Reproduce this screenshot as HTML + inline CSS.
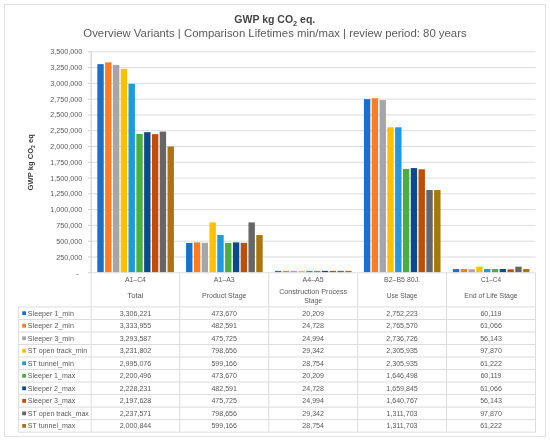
<!DOCTYPE html>
<html lang="en"><head><meta charset="utf-8"><title>GWP kg CO2 eq. – Overview Variants</title>
<style>html,body{margin:0;padding:0;background:#fff}body{width:550px;height:441px;overflow:hidden}svg{display:block}</style>
</head><body>
<svg width="550" height="441" viewBox="0 0 550 441" font-family="'Liberation Sans', sans-serif">
<rect x="0" y="0" width="550" height="441" fill="#fff"/>
<rect x="4.5" y="4.5" width="541" height="432" fill="#fff" stroke="#e2e2e2" stroke-width="1"/>
<line x1="91.2" y1="51.80" x2="535.5" y2="51.80" stroke="#dcdcdc" stroke-width="1"/>
<line x1="91.2" y1="67.58" x2="535.5" y2="67.58" stroke="#dcdcdc" stroke-width="1"/>
<line x1="91.2" y1="83.36" x2="535.5" y2="83.36" stroke="#dcdcdc" stroke-width="1"/>
<line x1="91.2" y1="99.15" x2="535.5" y2="99.15" stroke="#dcdcdc" stroke-width="1"/>
<line x1="91.2" y1="114.93" x2="535.5" y2="114.93" stroke="#dcdcdc" stroke-width="1"/>
<line x1="91.2" y1="130.71" x2="535.5" y2="130.71" stroke="#dcdcdc" stroke-width="1"/>
<line x1="91.2" y1="146.49" x2="535.5" y2="146.49" stroke="#dcdcdc" stroke-width="1"/>
<line x1="91.2" y1="162.27" x2="535.5" y2="162.27" stroke="#dcdcdc" stroke-width="1"/>
<line x1="91.2" y1="178.06" x2="535.5" y2="178.06" stroke="#dcdcdc" stroke-width="1"/>
<line x1="91.2" y1="193.84" x2="535.5" y2="193.84" stroke="#dcdcdc" stroke-width="1"/>
<line x1="91.2" y1="209.62" x2="535.5" y2="209.62" stroke="#dcdcdc" stroke-width="1"/>
<line x1="91.2" y1="225.40" x2="535.5" y2="225.40" stroke="#dcdcdc" stroke-width="1"/>
<line x1="91.2" y1="241.19" x2="535.5" y2="241.19" stroke="#dcdcdc" stroke-width="1"/>
<line x1="91.2" y1="256.97" x2="535.5" y2="256.97" stroke="#dcdcdc" stroke-width="1"/>
<rect x="97.32" y="64.13" width="6.4" height="208.22" fill="#1c70ca"/>
<rect x="105.12" y="62.38" width="6.4" height="209.97" fill="#f97d24"/>
<rect x="112.92" y="64.93" width="6.4" height="207.42" fill="#a6a6a6"/>
<rect x="120.72" y="68.83" width="6.4" height="203.52" fill="#ffc000"/>
<rect x="128.52" y="83.78" width="6.4" height="188.57" fill="#1e9bdb"/>
<rect x="136.32" y="133.94" width="6.4" height="138.41" fill="#4cae41"/>
<rect x="144.12" y="132.18" width="6.4" height="140.17" fill="#0d4a8b"/>
<rect x="151.92" y="134.12" width="6.4" height="138.23" fill="#bf4e0b"/>
<rect x="159.72" y="131.60" width="6.4" height="140.75" fill="#666666"/>
<rect x="167.52" y="146.54" width="6.4" height="125.81" fill="#a8760c"/>
<rect x="186.07" y="242.95" width="6.4" height="29.40" fill="#1c70ca"/>
<rect x="193.88" y="242.38" width="6.4" height="29.97" fill="#f97d24"/>
<rect x="201.67" y="242.82" width="6.4" height="29.53" fill="#a6a6a6"/>
<rect x="209.47" y="222.43" width="6.4" height="49.92" fill="#ffc000"/>
<rect x="217.27" y="235.03" width="6.4" height="37.32" fill="#1e9bdb"/>
<rect x="225.07" y="242.95" width="6.4" height="29.40" fill="#4cae41"/>
<rect x="232.88" y="242.38" width="6.4" height="29.97" fill="#0d4a8b"/>
<rect x="240.67" y="242.82" width="6.4" height="29.53" fill="#bf4e0b"/>
<rect x="248.47" y="222.43" width="6.4" height="49.92" fill="#666666"/>
<rect x="256.27" y="235.03" width="6.4" height="37.32" fill="#a8760c"/>
<rect x="275.02" y="270.85" width="6.4" height="1.50" fill="#1c70ca"/>
<rect x="282.82" y="270.85" width="6.4" height="1.50" fill="#f97d24"/>
<rect x="290.62" y="270.85" width="6.4" height="1.50" fill="#a6a6a6"/>
<rect x="298.42" y="270.85" width="6.4" height="1.50" fill="#ffc000"/>
<rect x="306.22" y="270.85" width="6.4" height="1.50" fill="#1e9bdb"/>
<rect x="314.02" y="270.85" width="6.4" height="1.50" fill="#4cae41"/>
<rect x="321.82" y="270.85" width="6.4" height="1.50" fill="#0d4a8b"/>
<rect x="329.62" y="270.85" width="6.4" height="1.50" fill="#bf4e0b"/>
<rect x="337.42" y="270.85" width="6.4" height="1.50" fill="#666666"/>
<rect x="345.22" y="270.85" width="6.4" height="1.50" fill="#a8760c"/>
<rect x="363.92" y="99.11" width="6.4" height="173.24" fill="#1c70ca"/>
<rect x="371.72" y="98.26" width="6.4" height="174.09" fill="#f97d24"/>
<rect x="379.52" y="100.08" width="6.4" height="172.27" fill="#a6a6a6"/>
<rect x="387.32" y="127.28" width="6.4" height="145.07" fill="#ffc000"/>
<rect x="395.12" y="127.28" width="6.4" height="145.07" fill="#1e9bdb"/>
<rect x="402.92" y="168.91" width="6.4" height="103.44" fill="#4cae41"/>
<rect x="410.72" y="168.07" width="6.4" height="104.28" fill="#0d4a8b"/>
<rect x="418.52" y="169.27" width="6.4" height="103.08" fill="#bf4e0b"/>
<rect x="426.32" y="190.04" width="6.4" height="82.31" fill="#666666"/>
<rect x="434.12" y="190.04" width="6.4" height="82.31" fill="#a8760c"/>
<rect x="452.85" y="269.05" width="6.4" height="3.30" fill="#1c70ca"/>
<rect x="460.65" y="268.99" width="6.4" height="3.36" fill="#f97d24"/>
<rect x="468.45" y="269.31" width="6.4" height="3.04" fill="#a6a6a6"/>
<rect x="476.25" y="266.67" width="6.4" height="5.68" fill="#ffc000"/>
<rect x="484.05" y="268.99" width="6.4" height="3.36" fill="#1e9bdb"/>
<rect x="491.85" y="269.05" width="6.4" height="3.30" fill="#4cae41"/>
<rect x="499.65" y="268.99" width="6.4" height="3.36" fill="#0d4a8b"/>
<rect x="507.45" y="269.31" width="6.4" height="3.04" fill="#bf4e0b"/>
<rect x="515.25" y="266.67" width="6.4" height="5.68" fill="#666666"/>
<rect x="523.05" y="268.99" width="6.4" height="3.36" fill="#a8760c"/>
<line x1="91.2" y1="51.8" x2="91.2" y2="272.75" stroke="#cfcfcf" stroke-width="1"/>
<line x1="91.2" y1="272.75" x2="91.2" y2="432.15" stroke="#dcdcdc" stroke-width="1"/>
<line x1="91.2" y1="272.75" x2="535.5" y2="272.75" stroke="#dedede" stroke-width="1"/>
<line x1="88.2" y1="51.80" x2="91.2" y2="51.80" stroke="#c8c8c8" stroke-width="1"/>
<line x1="88.2" y1="67.58" x2="91.2" y2="67.58" stroke="#c8c8c8" stroke-width="1"/>
<line x1="88.2" y1="83.36" x2="91.2" y2="83.36" stroke="#c8c8c8" stroke-width="1"/>
<line x1="88.2" y1="99.15" x2="91.2" y2="99.15" stroke="#c8c8c8" stroke-width="1"/>
<line x1="88.2" y1="114.93" x2="91.2" y2="114.93" stroke="#c8c8c8" stroke-width="1"/>
<line x1="88.2" y1="130.71" x2="91.2" y2="130.71" stroke="#c8c8c8" stroke-width="1"/>
<line x1="88.2" y1="146.49" x2="91.2" y2="146.49" stroke="#c8c8c8" stroke-width="1"/>
<line x1="88.2" y1="162.27" x2="91.2" y2="162.27" stroke="#c8c8c8" stroke-width="1"/>
<line x1="88.2" y1="178.06" x2="91.2" y2="178.06" stroke="#c8c8c8" stroke-width="1"/>
<line x1="88.2" y1="193.84" x2="91.2" y2="193.84" stroke="#c8c8c8" stroke-width="1"/>
<line x1="88.2" y1="209.62" x2="91.2" y2="209.62" stroke="#c8c8c8" stroke-width="1"/>
<line x1="88.2" y1="225.40" x2="91.2" y2="225.40" stroke="#c8c8c8" stroke-width="1"/>
<line x1="88.2" y1="241.19" x2="91.2" y2="241.19" stroke="#c8c8c8" stroke-width="1"/>
<line x1="88.2" y1="256.97" x2="91.2" y2="256.97" stroke="#c8c8c8" stroke-width="1"/>
<line x1="88.2" y1="272.75" x2="91.2" y2="272.75" stroke="#c8c8c8" stroke-width="1"/>
<line x1="89.7" y1="54.96" x2="91.2" y2="54.96" stroke="#dcdcdc" stroke-width="0.7"/>
<line x1="89.7" y1="58.11" x2="91.2" y2="58.11" stroke="#dcdcdc" stroke-width="0.7"/>
<line x1="89.7" y1="61.27" x2="91.2" y2="61.27" stroke="#dcdcdc" stroke-width="0.7"/>
<line x1="89.7" y1="64.43" x2="91.2" y2="64.43" stroke="#dcdcdc" stroke-width="0.7"/>
<line x1="89.7" y1="70.74" x2="91.2" y2="70.74" stroke="#dcdcdc" stroke-width="0.7"/>
<line x1="89.7" y1="73.89" x2="91.2" y2="73.89" stroke="#dcdcdc" stroke-width="0.7"/>
<line x1="89.7" y1="77.05" x2="91.2" y2="77.05" stroke="#dcdcdc" stroke-width="0.7"/>
<line x1="89.7" y1="80.21" x2="91.2" y2="80.21" stroke="#dcdcdc" stroke-width="0.7"/>
<line x1="89.7" y1="86.52" x2="91.2" y2="86.52" stroke="#dcdcdc" stroke-width="0.7"/>
<line x1="89.7" y1="89.68" x2="91.2" y2="89.68" stroke="#dcdcdc" stroke-width="0.7"/>
<line x1="89.7" y1="92.83" x2="91.2" y2="92.83" stroke="#dcdcdc" stroke-width="0.7"/>
<line x1="89.7" y1="95.99" x2="91.2" y2="95.99" stroke="#dcdcdc" stroke-width="0.7"/>
<line x1="89.7" y1="102.30" x2="91.2" y2="102.30" stroke="#dcdcdc" stroke-width="0.7"/>
<line x1="89.7" y1="105.46" x2="91.2" y2="105.46" stroke="#dcdcdc" stroke-width="0.7"/>
<line x1="89.7" y1="108.62" x2="91.2" y2="108.62" stroke="#dcdcdc" stroke-width="0.7"/>
<line x1="89.7" y1="111.77" x2="91.2" y2="111.77" stroke="#dcdcdc" stroke-width="0.7"/>
<line x1="89.7" y1="118.08" x2="91.2" y2="118.08" stroke="#dcdcdc" stroke-width="0.7"/>
<line x1="89.7" y1="121.24" x2="91.2" y2="121.24" stroke="#dcdcdc" stroke-width="0.7"/>
<line x1="89.7" y1="124.40" x2="91.2" y2="124.40" stroke="#dcdcdc" stroke-width="0.7"/>
<line x1="89.7" y1="127.55" x2="91.2" y2="127.55" stroke="#dcdcdc" stroke-width="0.7"/>
<line x1="89.7" y1="133.87" x2="91.2" y2="133.87" stroke="#dcdcdc" stroke-width="0.7"/>
<line x1="89.7" y1="137.02" x2="91.2" y2="137.02" stroke="#dcdcdc" stroke-width="0.7"/>
<line x1="89.7" y1="140.18" x2="91.2" y2="140.18" stroke="#dcdcdc" stroke-width="0.7"/>
<line x1="89.7" y1="143.34" x2="91.2" y2="143.34" stroke="#dcdcdc" stroke-width="0.7"/>
<line x1="89.7" y1="149.65" x2="91.2" y2="149.65" stroke="#dcdcdc" stroke-width="0.7"/>
<line x1="89.7" y1="152.81" x2="91.2" y2="152.81" stroke="#dcdcdc" stroke-width="0.7"/>
<line x1="89.7" y1="155.96" x2="91.2" y2="155.96" stroke="#dcdcdc" stroke-width="0.7"/>
<line x1="89.7" y1="159.12" x2="91.2" y2="159.12" stroke="#dcdcdc" stroke-width="0.7"/>
<line x1="89.7" y1="165.43" x2="91.2" y2="165.43" stroke="#dcdcdc" stroke-width="0.7"/>
<line x1="89.7" y1="168.59" x2="91.2" y2="168.59" stroke="#dcdcdc" stroke-width="0.7"/>
<line x1="89.7" y1="171.74" x2="91.2" y2="171.74" stroke="#dcdcdc" stroke-width="0.7"/>
<line x1="89.7" y1="174.90" x2="91.2" y2="174.90" stroke="#dcdcdc" stroke-width="0.7"/>
<line x1="89.7" y1="181.21" x2="91.2" y2="181.21" stroke="#dcdcdc" stroke-width="0.7"/>
<line x1="89.7" y1="184.37" x2="91.2" y2="184.37" stroke="#dcdcdc" stroke-width="0.7"/>
<line x1="89.7" y1="187.53" x2="91.2" y2="187.53" stroke="#dcdcdc" stroke-width="0.7"/>
<line x1="89.7" y1="190.68" x2="91.2" y2="190.68" stroke="#dcdcdc" stroke-width="0.7"/>
<line x1="89.7" y1="197.00" x2="91.2" y2="197.00" stroke="#dcdcdc" stroke-width="0.7"/>
<line x1="89.7" y1="200.15" x2="91.2" y2="200.15" stroke="#dcdcdc" stroke-width="0.7"/>
<line x1="89.7" y1="203.31" x2="91.2" y2="203.31" stroke="#dcdcdc" stroke-width="0.7"/>
<line x1="89.7" y1="206.46" x2="91.2" y2="206.46" stroke="#dcdcdc" stroke-width="0.7"/>
<line x1="89.7" y1="212.78" x2="91.2" y2="212.78" stroke="#dcdcdc" stroke-width="0.7"/>
<line x1="89.7" y1="215.93" x2="91.2" y2="215.93" stroke="#dcdcdc" stroke-width="0.7"/>
<line x1="89.7" y1="219.09" x2="91.2" y2="219.09" stroke="#dcdcdc" stroke-width="0.7"/>
<line x1="89.7" y1="222.25" x2="91.2" y2="222.25" stroke="#dcdcdc" stroke-width="0.7"/>
<line x1="89.7" y1="228.56" x2="91.2" y2="228.56" stroke="#dcdcdc" stroke-width="0.7"/>
<line x1="89.7" y1="231.72" x2="91.2" y2="231.72" stroke="#dcdcdc" stroke-width="0.7"/>
<line x1="89.7" y1="234.87" x2="91.2" y2="234.87" stroke="#dcdcdc" stroke-width="0.7"/>
<line x1="89.7" y1="238.03" x2="91.2" y2="238.03" stroke="#dcdcdc" stroke-width="0.7"/>
<line x1="89.7" y1="244.34" x2="91.2" y2="244.34" stroke="#dcdcdc" stroke-width="0.7"/>
<line x1="89.7" y1="247.50" x2="91.2" y2="247.50" stroke="#dcdcdc" stroke-width="0.7"/>
<line x1="89.7" y1="250.65" x2="91.2" y2="250.65" stroke="#dcdcdc" stroke-width="0.7"/>
<line x1="89.7" y1="253.81" x2="91.2" y2="253.81" stroke="#dcdcdc" stroke-width="0.7"/>
<line x1="89.7" y1="260.12" x2="91.2" y2="260.12" stroke="#dcdcdc" stroke-width="0.7"/>
<line x1="89.7" y1="263.28" x2="91.2" y2="263.28" stroke="#dcdcdc" stroke-width="0.7"/>
<line x1="89.7" y1="266.44" x2="91.2" y2="266.44" stroke="#dcdcdc" stroke-width="0.7"/>
<line x1="89.7" y1="269.59" x2="91.2" y2="269.59" stroke="#dcdcdc" stroke-width="0.7"/>
<text x="82.30" y="54.35" font-size="7.9" text-anchor="end" fill="#5a5a5a" textLength="32.0" lengthAdjust="spacingAndGlyphs">3,500,000</text>
<text x="82.30" y="70.13" font-size="7.9" text-anchor="end" fill="#5a5a5a" textLength="32.0" lengthAdjust="spacingAndGlyphs">3,250,000</text>
<text x="82.30" y="85.91" font-size="7.9" text-anchor="end" fill="#5a5a5a" textLength="32.0" lengthAdjust="spacingAndGlyphs">3,000,000</text>
<text x="82.30" y="101.70" font-size="7.9" text-anchor="end" fill="#5a5a5a" textLength="32.0" lengthAdjust="spacingAndGlyphs">2,750,000</text>
<text x="82.30" y="117.48" font-size="7.9" text-anchor="end" fill="#5a5a5a" textLength="32.0" lengthAdjust="spacingAndGlyphs">2,500,000</text>
<text x="82.30" y="133.26" font-size="7.9" text-anchor="end" fill="#5a5a5a" textLength="32.0" lengthAdjust="spacingAndGlyphs">2,250,000</text>
<text x="82.30" y="149.04" font-size="7.9" text-anchor="end" fill="#5a5a5a" textLength="32.0" lengthAdjust="spacingAndGlyphs">2,000,000</text>
<text x="82.30" y="164.82" font-size="7.9" text-anchor="end" fill="#5a5a5a" textLength="32.0" lengthAdjust="spacingAndGlyphs">1,750,000</text>
<text x="82.30" y="180.61" font-size="7.9" text-anchor="end" fill="#5a5a5a" textLength="32.0" lengthAdjust="spacingAndGlyphs">1,500,000</text>
<text x="82.30" y="196.39" font-size="7.9" text-anchor="end" fill="#5a5a5a" textLength="32.0" lengthAdjust="spacingAndGlyphs">1,250,000</text>
<text x="82.30" y="212.17" font-size="7.9" text-anchor="end" fill="#5a5a5a" textLength="32.0" lengthAdjust="spacingAndGlyphs">1,000,000</text>
<text x="82.30" y="227.95" font-size="7.9" text-anchor="end" fill="#5a5a5a" textLength="26.0" lengthAdjust="spacingAndGlyphs">750,000</text>
<text x="82.30" y="243.74" font-size="7.9" text-anchor="end" fill="#5a5a5a" textLength="26.0" lengthAdjust="spacingAndGlyphs">500,000</text>
<text x="82.30" y="259.52" font-size="7.9" text-anchor="end" fill="#5a5a5a" textLength="26.0" lengthAdjust="spacingAndGlyphs">250,000</text>
<text x="78.60" y="275.70" font-size="7.9" text-anchor="end" fill="#5a5a5a" textLength="2.4" lengthAdjust="spacingAndGlyphs">-</text>
<line x1="179.75" y1="272.75" x2="179.75" y2="432.15" stroke="#dcdcdc" stroke-width="1"/>
<line x1="268.70" y1="272.75" x2="268.70" y2="432.15" stroke="#dcdcdc" stroke-width="1"/>
<line x1="357.65" y1="272.75" x2="357.65" y2="432.15" stroke="#dcdcdc" stroke-width="1"/>
<line x1="446.50" y1="272.75" x2="446.50" y2="432.15" stroke="#dcdcdc" stroke-width="1"/>
<line x1="535.50" y1="272.75" x2="535.50" y2="432.15" stroke="#dcdcdc" stroke-width="1"/>
<line x1="18.6" y1="306.95" x2="18.6" y2="432.15" stroke="#dcdcdc" stroke-width="1"/>
<line x1="18.6" y1="306.95" x2="535.5" y2="306.95" stroke="#dcdcdc" stroke-width="1"/>
<line x1="18.6" y1="319.47" x2="535.5" y2="319.47" stroke="#dcdcdc" stroke-width="1"/>
<line x1="18.6" y1="331.99" x2="535.5" y2="331.99" stroke="#dcdcdc" stroke-width="1"/>
<line x1="18.6" y1="344.51" x2="535.5" y2="344.51" stroke="#dcdcdc" stroke-width="1"/>
<line x1="18.6" y1="357.03" x2="535.5" y2="357.03" stroke="#dcdcdc" stroke-width="1"/>
<line x1="18.6" y1="369.55" x2="535.5" y2="369.55" stroke="#dcdcdc" stroke-width="1"/>
<line x1="18.6" y1="382.07" x2="535.5" y2="382.07" stroke="#dcdcdc" stroke-width="1"/>
<line x1="18.6" y1="394.59" x2="535.5" y2="394.59" stroke="#dcdcdc" stroke-width="1"/>
<line x1="18.6" y1="407.11" x2="535.5" y2="407.11" stroke="#dcdcdc" stroke-width="1"/>
<line x1="18.6" y1="419.63" x2="535.5" y2="419.63" stroke="#dcdcdc" stroke-width="1"/>
<line x1="18.6" y1="432.15" x2="535.5" y2="432.15" stroke="#dcdcdc" stroke-width="1"/>
<text x="135.47" y="281.80" font-size="7.9" text-anchor="middle" fill="#5a5a5a" textLength="20.9" lengthAdjust="spacingAndGlyphs">A1–C4</text>
<text x="135.47" y="297.90" font-size="7.9" text-anchor="middle" fill="#5a5a5a" textLength="16.2" lengthAdjust="spacingAndGlyphs">Total</text>
<text x="224.22" y="281.80" font-size="7.9" text-anchor="middle" fill="#5a5a5a" textLength="20.9" lengthAdjust="spacingAndGlyphs">A1–A3</text>
<text x="224.22" y="297.90" font-size="7.9" text-anchor="middle" fill="#5a5a5a" textLength="44.5" lengthAdjust="spacingAndGlyphs">Product Stage</text>
<text x="313.17" y="281.80" font-size="7.9" text-anchor="middle" fill="#5a5a5a" textLength="21.1" lengthAdjust="spacingAndGlyphs">A4–A5</text>
<text x="313.17" y="294.00" font-size="7.9" text-anchor="middle" fill="#5a5a5a" textLength="68.0" lengthAdjust="spacingAndGlyphs">Construction Process</text>
<text x="313.17" y="303.30" font-size="7.9" text-anchor="middle" fill="#5a5a5a" textLength="17.8" lengthAdjust="spacingAndGlyphs">Stage</text>
<text x="402.07" y="281.80" font-size="7.9" text-anchor="middle" fill="#5a5a5a" textLength="36.0" lengthAdjust="spacingAndGlyphs">B2–B5 80J.</text>
<text x="402.07" y="297.90" font-size="7.9" text-anchor="middle" fill="#5a5a5a" textLength="30.7" lengthAdjust="spacingAndGlyphs">Use Stage</text>
<text x="491.00" y="281.80" font-size="7.9" text-anchor="middle" fill="#5a5a5a" textLength="20.0" lengthAdjust="spacingAndGlyphs">C1–C4</text>
<text x="491.00" y="297.90" font-size="7.9" text-anchor="middle" fill="#5a5a5a" textLength="53.4" lengthAdjust="spacingAndGlyphs">End of Life Stage</text>
<rect x="22.2" y="311.31" width="3.8" height="3.8" fill="#1c70ca"/>
<text x="27.80" y="315.51" font-size="7.9" text-anchor="start" fill="#5a5a5a" textLength="46.1" lengthAdjust="spacingAndGlyphs">Sleeper 1_min</text>
<text x="135.47" y="315.51" font-size="7.9" text-anchor="middle" fill="#5a5a5a" textLength="31.5" lengthAdjust="spacingAndGlyphs">3,306,221</text>
<text x="224.22" y="315.51" font-size="7.9" text-anchor="middle" fill="#5a5a5a" textLength="25.6" lengthAdjust="spacingAndGlyphs">473,670</text>
<text x="313.17" y="315.51" font-size="7.9" text-anchor="middle" fill="#5a5a5a" textLength="21.7" lengthAdjust="spacingAndGlyphs">20,209</text>
<text x="402.07" y="315.51" font-size="7.9" text-anchor="middle" fill="#5a5a5a" textLength="31.5" lengthAdjust="spacingAndGlyphs">2,752,223</text>
<text x="491.00" y="315.51" font-size="7.9" text-anchor="middle" fill="#5a5a5a" textLength="21.1" lengthAdjust="spacingAndGlyphs">60,119</text>
<rect x="22.2" y="323.83" width="3.8" height="3.8" fill="#f97d24"/>
<text x="27.80" y="328.03" font-size="7.9" text-anchor="start" fill="#5a5a5a" textLength="46.1" lengthAdjust="spacingAndGlyphs">Sleeper 2_min</text>
<text x="135.47" y="328.03" font-size="7.9" text-anchor="middle" fill="#5a5a5a" textLength="31.5" lengthAdjust="spacingAndGlyphs">3,333,955</text>
<text x="224.22" y="328.03" font-size="7.9" text-anchor="middle" fill="#5a5a5a" textLength="25.6" lengthAdjust="spacingAndGlyphs">482,591</text>
<text x="313.17" y="328.03" font-size="7.9" text-anchor="middle" fill="#5a5a5a" textLength="21.7" lengthAdjust="spacingAndGlyphs">24,728</text>
<text x="402.07" y="328.03" font-size="7.9" text-anchor="middle" fill="#5a5a5a" textLength="31.5" lengthAdjust="spacingAndGlyphs">2,765,570</text>
<text x="491.00" y="328.03" font-size="7.9" text-anchor="middle" fill="#5a5a5a" textLength="21.7" lengthAdjust="spacingAndGlyphs">61,066</text>
<rect x="22.2" y="336.35" width="3.8" height="3.8" fill="#a6a6a6"/>
<text x="27.80" y="340.55" font-size="7.9" text-anchor="start" fill="#5a5a5a" textLength="46.1" lengthAdjust="spacingAndGlyphs">Sleeper 3_min</text>
<text x="135.47" y="340.55" font-size="7.9" text-anchor="middle" fill="#5a5a5a" textLength="31.5" lengthAdjust="spacingAndGlyphs">3,293,587</text>
<text x="224.22" y="340.55" font-size="7.9" text-anchor="middle" fill="#5a5a5a" textLength="25.6" lengthAdjust="spacingAndGlyphs">475,725</text>
<text x="313.17" y="340.55" font-size="7.9" text-anchor="middle" fill="#5a5a5a" textLength="21.7" lengthAdjust="spacingAndGlyphs">24,994</text>
<text x="402.07" y="340.55" font-size="7.9" text-anchor="middle" fill="#5a5a5a" textLength="31.5" lengthAdjust="spacingAndGlyphs">2,736,726</text>
<text x="491.00" y="340.55" font-size="7.9" text-anchor="middle" fill="#5a5a5a" textLength="21.7" lengthAdjust="spacingAndGlyphs">56,143</text>
<rect x="22.2" y="348.87" width="3.8" height="3.8" fill="#ffc000"/>
<text x="27.80" y="353.07" font-size="7.9" text-anchor="start" fill="#5a5a5a" textLength="59.5" lengthAdjust="spacingAndGlyphs">ST open track_min</text>
<text x="135.47" y="353.07" font-size="7.9" text-anchor="middle" fill="#5a5a5a" textLength="31.5" lengthAdjust="spacingAndGlyphs">3,231,802</text>
<text x="224.22" y="353.07" font-size="7.9" text-anchor="middle" fill="#5a5a5a" textLength="25.6" lengthAdjust="spacingAndGlyphs">798,656</text>
<text x="313.17" y="353.07" font-size="7.9" text-anchor="middle" fill="#5a5a5a" textLength="21.7" lengthAdjust="spacingAndGlyphs">29,342</text>
<text x="402.07" y="353.07" font-size="7.9" text-anchor="middle" fill="#5a5a5a" textLength="31.5" lengthAdjust="spacingAndGlyphs">2,305,935</text>
<text x="491.00" y="353.07" font-size="7.9" text-anchor="middle" fill="#5a5a5a" textLength="21.7" lengthAdjust="spacingAndGlyphs">97,870</text>
<rect x="22.2" y="361.39" width="3.8" height="3.8" fill="#1e9bdb"/>
<text x="27.80" y="365.59" font-size="7.9" text-anchor="start" fill="#5a5a5a" textLength="46.1" lengthAdjust="spacingAndGlyphs">ST tunnel_min</text>
<text x="135.47" y="365.59" font-size="7.9" text-anchor="middle" fill="#5a5a5a" textLength="31.5" lengthAdjust="spacingAndGlyphs">2,995,076</text>
<text x="224.22" y="365.59" font-size="7.9" text-anchor="middle" fill="#5a5a5a" textLength="25.6" lengthAdjust="spacingAndGlyphs">599,166</text>
<text x="313.17" y="365.59" font-size="7.9" text-anchor="middle" fill="#5a5a5a" textLength="21.7" lengthAdjust="spacingAndGlyphs">28,754</text>
<text x="402.07" y="365.59" font-size="7.9" text-anchor="middle" fill="#5a5a5a" textLength="31.5" lengthAdjust="spacingAndGlyphs">2,305,935</text>
<text x="491.00" y="365.59" font-size="7.9" text-anchor="middle" fill="#5a5a5a" textLength="21.7" lengthAdjust="spacingAndGlyphs">61,222</text>
<rect x="22.2" y="373.91" width="3.8" height="3.8" fill="#4cae41"/>
<text x="27.80" y="378.11" font-size="7.9" text-anchor="start" fill="#5a5a5a" textLength="47.5" lengthAdjust="spacingAndGlyphs">Sleeper 1_max</text>
<text x="135.47" y="378.11" font-size="7.9" text-anchor="middle" fill="#5a5a5a" textLength="31.5" lengthAdjust="spacingAndGlyphs">2,200,496</text>
<text x="224.22" y="378.11" font-size="7.9" text-anchor="middle" fill="#5a5a5a" textLength="25.6" lengthAdjust="spacingAndGlyphs">473,670</text>
<text x="313.17" y="378.11" font-size="7.9" text-anchor="middle" fill="#5a5a5a" textLength="21.7" lengthAdjust="spacingAndGlyphs">20,209</text>
<text x="402.07" y="378.11" font-size="7.9" text-anchor="middle" fill="#5a5a5a" textLength="31.5" lengthAdjust="spacingAndGlyphs">1,646,498</text>
<text x="491.00" y="378.11" font-size="7.9" text-anchor="middle" fill="#5a5a5a" textLength="21.1" lengthAdjust="spacingAndGlyphs">60,119</text>
<rect x="22.2" y="386.43" width="3.8" height="3.8" fill="#0d4a8b"/>
<text x="27.80" y="390.63" font-size="7.9" text-anchor="start" fill="#5a5a5a" textLength="47.5" lengthAdjust="spacingAndGlyphs">Sleeper 2_max</text>
<text x="135.47" y="390.63" font-size="7.9" text-anchor="middle" fill="#5a5a5a" textLength="31.5" lengthAdjust="spacingAndGlyphs">2,228,231</text>
<text x="224.22" y="390.63" font-size="7.9" text-anchor="middle" fill="#5a5a5a" textLength="25.6" lengthAdjust="spacingAndGlyphs">482,591</text>
<text x="313.17" y="390.63" font-size="7.9" text-anchor="middle" fill="#5a5a5a" textLength="21.7" lengthAdjust="spacingAndGlyphs">24,728</text>
<text x="402.07" y="390.63" font-size="7.9" text-anchor="middle" fill="#5a5a5a" textLength="31.5" lengthAdjust="spacingAndGlyphs">1,659,845</text>
<text x="491.00" y="390.63" font-size="7.9" text-anchor="middle" fill="#5a5a5a" textLength="21.7" lengthAdjust="spacingAndGlyphs">61,066</text>
<rect x="22.2" y="398.95" width="3.8" height="3.8" fill="#bf4e0b"/>
<text x="27.80" y="403.15" font-size="7.9" text-anchor="start" fill="#5a5a5a" textLength="47.5" lengthAdjust="spacingAndGlyphs">Sleeper 3_max</text>
<text x="135.47" y="403.15" font-size="7.9" text-anchor="middle" fill="#5a5a5a" textLength="31.5" lengthAdjust="spacingAndGlyphs">2,197,628</text>
<text x="224.22" y="403.15" font-size="7.9" text-anchor="middle" fill="#5a5a5a" textLength="25.6" lengthAdjust="spacingAndGlyphs">475,725</text>
<text x="313.17" y="403.15" font-size="7.9" text-anchor="middle" fill="#5a5a5a" textLength="21.7" lengthAdjust="spacingAndGlyphs">24,994</text>
<text x="402.07" y="403.15" font-size="7.9" text-anchor="middle" fill="#5a5a5a" textLength="31.5" lengthAdjust="spacingAndGlyphs">1,640,767</text>
<text x="491.00" y="403.15" font-size="7.9" text-anchor="middle" fill="#5a5a5a" textLength="21.7" lengthAdjust="spacingAndGlyphs">56,143</text>
<rect x="22.2" y="411.47" width="3.8" height="3.8" fill="#666666"/>
<text x="27.80" y="415.67" font-size="7.9" text-anchor="start" fill="#5a5a5a" textLength="61.1" lengthAdjust="spacingAndGlyphs">ST open track_max</text>
<text x="135.47" y="415.67" font-size="7.9" text-anchor="middle" fill="#5a5a5a" textLength="31.5" lengthAdjust="spacingAndGlyphs">2,237,571</text>
<text x="224.22" y="415.67" font-size="7.9" text-anchor="middle" fill="#5a5a5a" textLength="25.6" lengthAdjust="spacingAndGlyphs">798,656</text>
<text x="313.17" y="415.67" font-size="7.9" text-anchor="middle" fill="#5a5a5a" textLength="21.7" lengthAdjust="spacingAndGlyphs">29,342</text>
<text x="402.07" y="415.67" font-size="7.9" text-anchor="middle" fill="#5a5a5a" textLength="31.0" lengthAdjust="spacingAndGlyphs">1,311,703</text>
<text x="491.00" y="415.67" font-size="7.9" text-anchor="middle" fill="#5a5a5a" textLength="21.7" lengthAdjust="spacingAndGlyphs">97,870</text>
<rect x="22.2" y="423.99" width="3.8" height="3.8" fill="#a8760c"/>
<text x="27.80" y="428.19" font-size="7.9" text-anchor="start" fill="#5a5a5a" textLength="47.5" lengthAdjust="spacingAndGlyphs">ST tunnel_max</text>
<text x="135.47" y="428.19" font-size="7.9" text-anchor="middle" fill="#5a5a5a" textLength="31.5" lengthAdjust="spacingAndGlyphs">2,000,844</text>
<text x="224.22" y="428.19" font-size="7.9" text-anchor="middle" fill="#5a5a5a" textLength="25.6" lengthAdjust="spacingAndGlyphs">599,166</text>
<text x="313.17" y="428.19" font-size="7.9" text-anchor="middle" fill="#5a5a5a" textLength="21.7" lengthAdjust="spacingAndGlyphs">28,754</text>
<text x="402.07" y="428.19" font-size="7.9" text-anchor="middle" fill="#5a5a5a" textLength="31.0" lengthAdjust="spacingAndGlyphs">1,311,703</text>
<text x="491.00" y="428.19" font-size="7.9" text-anchor="middle" fill="#5a5a5a" textLength="21.7" lengthAdjust="spacingAndGlyphs">61,222</text>
<text x="274.8" y="23.1" font-size="10.2" font-weight="bold" text-anchor="middle" fill="#454545" textLength="81" lengthAdjust="spacingAndGlyphs">GWP kg CO<tspan font-size="7" dy="2.4">2</tspan><tspan dy="-2.4"> eq.</tspan></text>
<text x="275" y="37.2" font-size="10.3" text-anchor="middle" fill="#5a5a5a" textLength="383.3" lengthAdjust="spacingAndGlyphs">Overview Variants | Comparison Lifetimes min/max | review period: 80 years</text>
<text transform="translate(33.2,162.3) rotate(-90)" font-size="7.6" font-weight="bold" text-anchor="middle" fill="#3c3c3c">GWP kg CO<tspan font-size="5" dy="1.3">2</tspan><tspan dy="-1.3"> eq</tspan></text>
</svg>
</body></html>
